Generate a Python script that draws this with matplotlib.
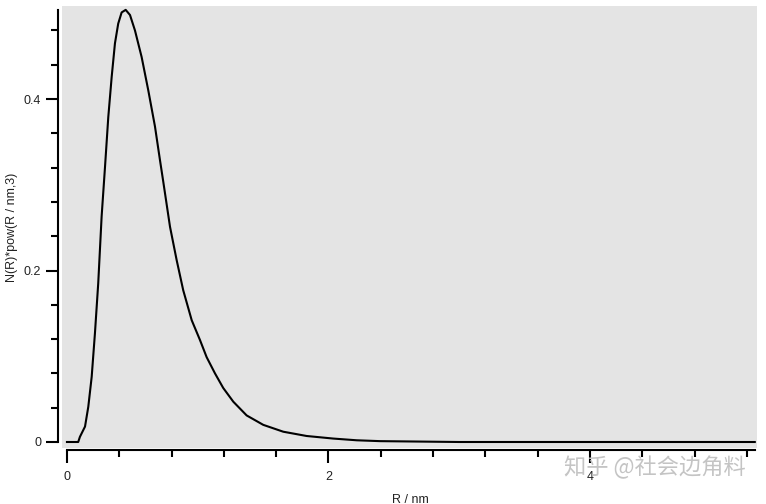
import matplotlib
matplotlib.use("Agg")
import matplotlib.pyplot as plt
from matplotlib.ticker import MultipleLocator, FixedLocator, FuncFormatter

# values
R = [0.0, 0.086, 0.099, 0.138, 0.163, 0.189, 0.214, 0.239, 0.265, 0.291,
     0.316, 0.342, 0.367, 0.392, 0.418, 0.449, 0.482, 0.520, 0.571, 0.622,
     0.673, 0.711, 0.737, 0.788, 0.839, 0.889, 0.954, 1.017, 1.068, 1.132,
     1.195, 1.272, 1.374, 1.501, 1.654, 1.833, 2.037, 2.216, 2.394, 3.0,
     4.0, 5.26]
NR3 = [0.0, 0.0, 0.006, 0.018, 0.041, 0.076, 0.127, 0.185, 0.263, 0.321,
       0.379, 0.426, 0.465, 0.488, 0.501, 0.504, 0.498, 0.480, 0.449, 0.410,
       0.368, 0.329, 0.303, 0.251, 0.212, 0.177, 0.142, 0.119, 0.099, 0.080,
       0.063, 0.047, 0.031, 0.020, 0.012, 0.007, 0.004, 0.002, 0.001, 0.0,
       0.0, 0.0]

x_ticks = [0, 2, 4]
x_labels = ["0", "2", "4"]

plt.rcParams['font.family'] = ['Liberation Sans', 'DejaVu Sans']

fig = plt.figure(figsize=(7.66, 5.04), dpi=100)
ax = fig.add_axes([62 / 766, 1 - 448 / 504, 695 / 766, 442 / 504])
ax.set_facecolor('#e4e4e4')

ax.plot(R, NR3, color='black', lw=1.5, solid_joinstyle='round')

ax.set_xlim(-0.038, 5.277)
ax.set_ylim(-0.007, 0.5085)

for s in ['top', 'right']:
    ax.spines[s].set_visible(False)
ax.spines['left'].set_position(('outward', 3))
ax.spines['left'].set_bounds(0, 0.504)
ax.spines['bottom'].set_position(('outward', 1.5))
ax.spines['bottom'].set_bounds(0, 5.26)
for s in ['left', 'bottom']:
    ax.spines[s].set_linewidth(1.5)

ax.xaxis.set_major_locator(FixedLocator(x_ticks))
ax.set_xticklabels(x_labels)
ax.xaxis.set_minor_locator(MultipleLocator(0.4))
ax.yaxis.set_major_locator(MultipleLocator(0.2))
ax.yaxis.set_minor_locator(MultipleLocator(0.04))
ax.yaxis.set_major_formatter(FuncFormatter(lambda v, p: "0" if abs(v) < 1e-9 else f"{v:.1f}"))

ax.tick_params(which='major', length=9, width=1.5, labelsize=9, colors='black',
               labelcolor='#222222', pad=3)
ax.tick_params(which='minor', length=5, width=1.5, colors='black')
ax.tick_params(axis='x', which='major', pad=6)

ax.set_xlabel("R / nm", fontsize=9, color='#222222')
ax.xaxis.set_label_coords((410 - 62) / 695, -(494 - 448) / 442)
ax.set_ylabel("N(R)*pow(R / nm,3)", fontsize=9, color='#222222')
ax.yaxis.set_label_coords(-(62 - 18) / 695, 0.5)

# watermark
fig.text(655 / 766, 1 - 467 / 504, "知乎 @社会边角料", fontsize=16,
         color='#c4c4c4', ha='center', va='center',
         family=['Noto Sans CJK SC', 'DejaVu Sans'])

fig.savefig("out.png", dpi=100, facecolor='white')
